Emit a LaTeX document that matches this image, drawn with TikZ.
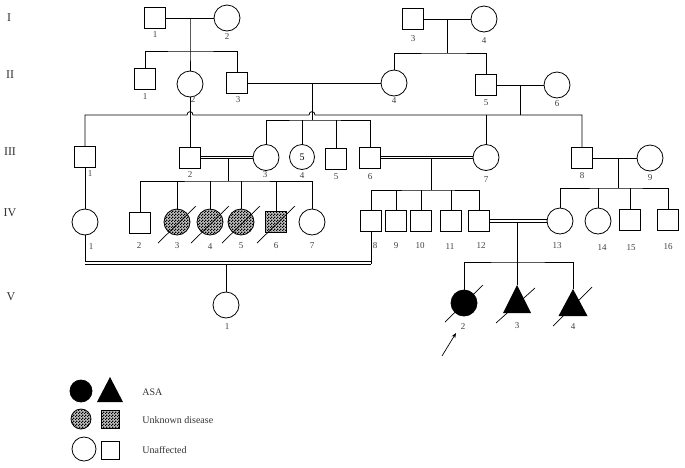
\documentclass[tikz,border=0pt]{standalone}
\usepackage{fontspec}
\setmainfont{Liberation Serif}
\usetikzlibrary{patterns,calc,arrows.meta}
\pgfdeclarepatternformonly{finecheck}{\pgfqpoint{0pt}{0pt}}{\pgfqpoint{3pt}{3pt}}{\pgfqpoint{3pt}{3pt}}{%
  \pgfpathrectangle{\pgfqpoint{0pt}{0pt}}{\pgfqpoint{1.5pt}{1.5pt}}%
  \pgfpathrectangle{\pgfqpoint{1.5pt}{1.5pt}}{\pgfqpoint{1.5pt}{1.5pt}}%
  \pgfusepath{fill}}
\newcommand\lbl[3]{\node[lab] (#1) at (#2) {#3};}
\newcommand\dline[2]{\draw[line width=0.7pt] ([yshift=1.3pt]#1) -- ([yshift=1.3pt]#2);
  \draw[line width=0.7pt] ([yshift=-1.3pt]#1) -- ([yshift=-1.3pt]#2);}
\begin{document}
\begin{tikzpicture}[x=1pt,y=-1pt,line width=0.8pt,
  sq/.style={draw,rectangle,minimum size=21pt,inner sep=0pt,fill=white},
  ci/.style={draw,circle,minimum size=26pt,inner sep=0pt,fill=white},
  hc/.style={draw,circle,minimum size=26pt,inner sep=0pt,fill=gray!50,postaction={pattern=finecheck,pattern color=black}},
  hs/.style={draw,rectangle,minimum size=21pt,inner sep=0pt,fill=gray!50,postaction={pattern=finecheck,pattern color=black}},
  lab/.style={font=\fontsize{9}{10}\selectfont,text=black!75,inner sep=0pt},
  gen/.style={font=\fontsize{12}{13}\selectfont,text=black!80,inner sep=0pt},
  leg/.style={font=\fontsize{10}{11}\selectfont,text=black!80,inner sep=0pt,anchor=west}]
\useasboundingbox (0,0) rectangle (685,467);
\fill[white] (0,0) rectangle (685,467);
% generation labels
\node[gen] (gI) at (9,18) {I};
\node[gen] (gII) at (10,75) {II};
\node[gen] (gIII) at (10,152) {III};
\node[gen] (gIV) at (10,213) {IV};
\node[gen] (gV) at (11,297) {V};
% Generation I
\node[sq] (i1) at (155,18) {};
\node[ci] (i2) at (227,18) {};
\node[sq] (i3) at (413,19) {};
\node[ci] (i4) at (484,19) {};
% Generation II
\node[sq] (ii1) at (145,79) {};
\node[ci] (ii2) at (190,84) {};
\node[sq] (ii3) at (237,83) {};
\node[ci] (ii4) at (394,83) {};
\node[sq] (ii5) at (486,85) {};
\node[ci] (ii6) at (557,85) {};
% Generation III
\node[sq] (iii1) at (85,157) {};
\node[sq] (iii2) at (190,157.5) {};
\node[ci] (iii3) at (266,157.5) {};
\node[ci,minimum size=25pt,font=\fontsize{10}{11}\selectfont] (iii4) at (302,157) {5};
\node[sq] (iii5) at (336,159) {};
\node[sq] (iii6) at (370,157.5) {};
\node[ci] (iii7) at (486,157.5) {};
\node[sq] (iii8) at (582,158) {};
\node[ci] (iii9) at (650,158) {};
% Generation IV
\node[ci] (iv1) at (85,222) {};
\node[sq] (iv2) at (140,223) {};
\node[hc] (iv3) at (177,222) {};
\node[hc] (iv4) at (210,222) {};
\node[hc] (iv5) at (241,222) {};
\node[hs] (iv6) at (276,222) {};
\node[ci] (iv7) at (312,222) {};
\node[sq] (iv8) at (371,221) {};
\node[sq] (iv9) at (396,221) {};
\node[sq] (iv10) at (421,221) {};
\node[sq] (iv11) at (451,221) {};
\node[sq] (iv12) at (479,221) {};
\node[ci] (iv13) at (560,221) {};
\node[ci] (iv14) at (598,221) {};
\node[sq] (iv15) at (630,220) {};
\node[sq] (iv16) at (668,220) {};
% Generation V
\node[ci] (v1) at (226,305) {};
\node[ci,fill=black] (v2) at (464,303) {};
\coordinate (v3) at (517,285);
\coordinate (v4) at (573,289);
\fill (v3) -- ++(14,28) -- ++(-28,0) -- cycle;
\fill (v4) -- ++(14.5,27) -- ++(-29,0) -- cycle;

% I-1 x I-2
\coordinate (mA) at (190,18); \coordinate (sA) at (190,51);
\draw (i1.east) -- (i2.west);
\draw (mA) -- (sA) -- (ii2.north);
\draw (ii1.north) |- (sA) -| (ii3.north);
% I-3 x I-4
\coordinate (mB) at (447,19); \coordinate (sB) at (447,53);
\draw (i3.east) -- (i4.west);
\draw (mB) -- (sB);
\draw (ii4.north) |- (sB) -| (ii5.north);
% II-3 x II-4
\coordinate (mC) at (312,83); \coordinate (sC) at (312,120);
\draw (ii3.east) -- (ii4.west);
\draw (mC) -- (sC);
\draw (iii3.north) |- (sC) -| (iii6.north);
\draw (iii4.north) -- (iii4.north |- sC);
\draw (iii5.north) -- (iii5.north |- sC);
% II-5 x II-6
\coordinate (mD) at (520,85); \coordinate (sD) at (520,115);
\draw (ii5.east) -- (ii6.west);
\draw (mD) -- (sD);
\draw (iii1.north) -- (iii1.north |- sD) -- (187,115) .. controls (187,110.5) and (193,110.5) .. (193,115)
  -- (309,115) .. controls (309,110.5) and (315,110.5) .. (315,115) -- (iii8.north |- sD) -- (iii8.north);
\draw (iii7.north) -- (iii7.north |- sD);
% II-2 to III-2
\draw (ii2.south) -- (iii2.north);
% III-2 x III-3
\coordinate (mE) at (228,158.8); \coordinate (sE) at (228,181);
\dline{iii2.east}{iii3.west}
\draw (mE) -- (sE);
\draw (iv2.north) |- (sE) -| (iv7.north);
\foreach \n in {iv3,iv4,iv5,iv6} \draw (\n.north) -- (\n.north |- sE);
% III-6 x III-7
\coordinate (mF) at (431,158.8); \coordinate (sF) at (431,190);
\dline{iii6.east}{iii7.west}
\draw (mF) -- (sF);
\draw (iv8.north) |- (sF) -| (iv12.north);
\foreach \n in {iv9,iv10,iv11} \draw (\n.north) -- (\n.north |- sF);
% III-8 x III-9
\coordinate (mG) at (618,158); \coordinate (sG) at (618,188);
\draw (iii8.east) -- (iii9.west);
\draw (mG) -- (sG);
\draw (iv13.north) |- (sG) -| (iv16.north);
\foreach \n in {iv14,iv15} \draw (\n.north) -- (\n.north |- sG);
% III-1 to IV-1
\draw (iii1.south) -- (iv1.north);
% IV-1 x IV-8
\coordinate (cL) at (85,263); \coordinate (cR) at (371,263);
\draw (iv1.south) -- ([yshift=1.3pt]cL);
\draw (iv8.south) -- ([yshift=-1.3pt]cR);
\dline{cL}{cR}
\coordinate (mH) at (226,264.3);
\draw (mH) -- (v1.north);
% IV-12 x IV-13
\coordinate (mI) at (517,222.3); \coordinate (sI) at (517,262);
\dline{iv12.east}{iv13.west}
\draw (mI) -- (v3);
\draw (v2.north) |- (sI) -| (v4);

% deceased slashes
\foreach \n in {iv3,iv4,iv5,iv6} \draw[line width=0.7pt] ($(\n)+(-19,21)$) -- ($(\n)+(19,-16)$);
\draw[line width=0.7pt] ($(v2)+(-19,19)$) -- ($(v2)+(19,-18)$);
\draw[line width=0.7pt] ($(v3)+(-21,38)$) -- ($(v3)+(18,3)$);
\draw[line width=0.7pt] ($(v4)+(-20,37)$) -- ($(v4)+(19,-2)$);
% proband arrow
\coordinate (arT) at (442,356); \coordinate (arH) at (456,333);
\draw[line width=0.7pt,-{Stealth[length=5pt,width=4pt]}] (arT) -- (arH);

% labels
\lbl{l1}{155,35}{1} \lbl{l2}{227,37}{2} \lbl{l3}{413,39}{3} \lbl{l4}{484,41}{4}
\lbl{l5}{145,97}{1} \lbl{l6}{193,100}{2} \lbl{l7}{238,100}{3} \lbl{l8}{394,101}{4}
\lbl{l9}{486,103}{5} \lbl{l10}{557,104}{6}
\lbl{l11}{90,174}{1} \lbl{l12}{190,175}{2} \lbl{l13}{265,175}{3} \lbl{l14}{302,176}{4}
\lbl{l15}{336,177}{5} \lbl{l16}{370,177}{6} \lbl{l17}{486,180}{7} \lbl{l18}{582,176}{8}
\lbl{l19}{650,178}{9}
\lbl{l20}{91,247}{1} \lbl{l21}{139,246}{2} \lbl{l22}{177,246}{3} \lbl{l23}{210,247}{4}
\lbl{l24}{241,246}{5} \lbl{l25}{276,246}{6} \lbl{l26}{312,246}{7} \lbl{l27}{375,246}{8}
\lbl{l28}{396,246}{9} \lbl{l29}{420,246}{10} \lbl{l30}{450,247}{11} \lbl{l31}{481,246}{12}
\lbl{l32}{557,246}{13} \lbl{l33}{602,248}{14} \lbl{l34}{631,248}{15} \lbl{l35}{668,247}{16}
\lbl{l36}{227,327}{1} \lbl{l37}{463,327}{2} \lbl{l38}{517,326}{3} \lbl{l39}{573,327}{4}

% legend
\node[ci,fill=black,minimum size=22pt] (lgA1) at (81,391) {};
\coordinate (lgA2) at (110,377);
\fill (lgA2) -- ++(13,25) -- ++(-26,0) -- cycle;
\node[leg] (lgA) at (142,392) {ASA};
\node[hc,minimum size=20pt] (lgB1) at (81,419) {};
\node[hs,minimum size=18pt] (lgB2) at (110,419) {};
\node[leg] (lgB) at (142,420) {Unknown disease};
\node[ci,minimum size=24pt] (lgC1) at (84,449) {};
\node[sq,minimum size=18pt] (lgC2) at (110,450) {};
\node[leg] (lgC) at (142,450) {Unaffected};
\end{tikzpicture}
\end{document}
